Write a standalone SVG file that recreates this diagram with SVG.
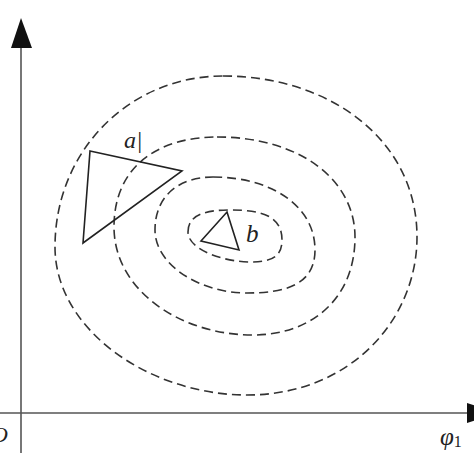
<svg xmlns="http://www.w3.org/2000/svg" width="474" height="474" viewBox="0 0 474 474">
<style>
.axis{stroke:#555;stroke-width:1.6;fill:none}
.contour{stroke:#333;stroke-width:1.6;fill:none;stroke-dasharray:9 5}
.tri{stroke:#222;stroke-width:1.6;fill:none;stroke-linejoin:miter}
.lbl{font-family:"Liberation Serif",serif;font-style:italic;fill:#222}
</style>
<rect width="474" height="474" fill="#fff"/>
<g id="axes">
<line class="axis" x1="21" y1="46" x2="21" y2="453"/>
<line class="axis" x1="0" y1="413" x2="468" y2="413"/>
<polygon points="21,18 11,48 32,48" fill="#111"/>
<polygon points="498,413 467,403 467,423" fill="#111"/>
</g>
<g id="contours">
<path id="c1" class="contour" d="M223,76 C330,76 417,140 417,237 C417,320 350,395 247,395 C150,395 55,330 55,247 C55,150 130,76 223,76 Z"/>
<path id="c2" class="contour" d="M217,137 C300,137 355,180 355,237 C355,300 310,335 253,335 C180,335 114,290 114,227 C114,165 160,137 217,137 Z"/>
<path id="c3" class="contour" d="M213,177 C270,177 315,205 315,250 C315,285 285,293 247,293 C200,293 155,265 155,230 C155,195 180,177 213,177 Z"/>
<path id="c4" class="contour" d="M188,232 C188,215 205,210 230,210 C260,210 282,215 282,240 C282,258 270,262 250,262 C225,262 188,250 188,232 Z"/>
</g>
<g id="triangle-a">
<polygon class="tri" points="90,151 182,171 83,243"/>
<text class="lbl" x="124" y="148" font-size="24">a|</text>
</g>
<g id="triangle-b">
<polygon class="tri" points="227,212 239,250 201,241"/>
<text class="lbl" x="246" y="242" font-size="25">b</text>
</g>
<g id="labels">
<text class="lbl" x="-8" y="442" font-size="22" font-style="normal">O</text>
<text class="lbl" x="440" y="445" font-size="25">φ<tspan font-size="16" font-style="normal" dy="2">1</tspan></text>
</g>
</svg>
